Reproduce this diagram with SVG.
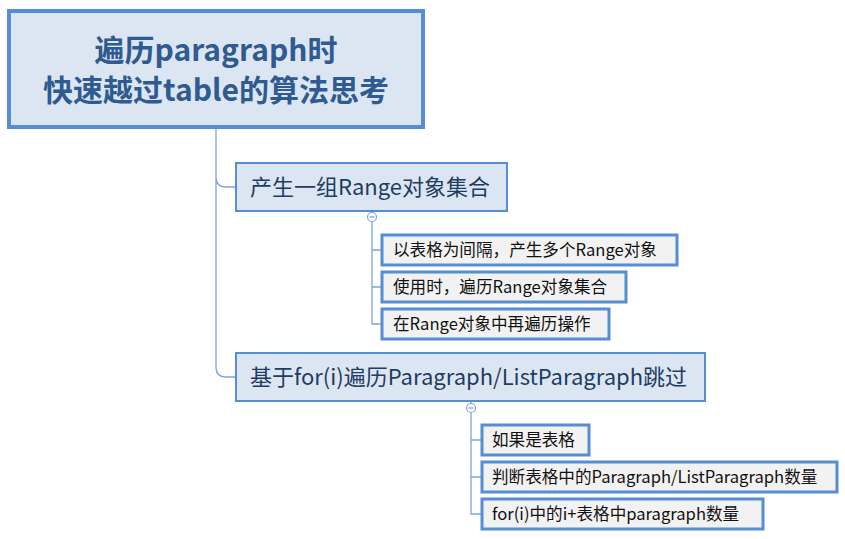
<svg xmlns="http://www.w3.org/2000/svg" width="845" height="539" viewBox="0 0 845 539">
<style>
.t{font-family:"Microsoft YaHei","Noto Sans CJK SC",sans-serif;}
.root rect{fill:#dce6f2;stroke:#558ed5;stroke-width:4}
.root text{fill:#2f5b91;font-size:30px;font-weight:bold}
.l1 rect{fill:#dce6f2;stroke:#558ed5;stroke-width:2}
.l1 text{fill:#1f3d63;font-size:22px}
.l2 rect{fill:#f2f2f2;stroke:#558ed5;stroke-width:3}
.l2 text{fill:#111;font-size:16.6px}
.c{fill:none;stroke:#7ea6dc;stroke-width:1.3}
.k{fill:#fff;stroke:#7ea6dc;stroke-width:1.2}
</style>
<rect width="845" height="539" fill="#fff"/>
<g id="connectors">
<path class="c" d="M216,128 V177 Q216,187 226,187 H236 M216,177 V367 Q216,377 226,377 H236"/>
<path class="c" d="M372,211 V324 H381 M372,250 H381 M372,287 H381"/>
<path class="c" d="M471,401 V514 H481 M471,440 H481 M471,477 H481"/>
<circle class="k" cx="372" cy="217" r="4.5"/><path class="c" d="M369.5,217 H374.5"/>
<circle class="k" cx="471" cy="408" r="4.5"/><path class="c" d="M468.5,408 H473.5"/>
</g>
<g id="root" class="root t"><rect x="9" y="11" width="414" height="116"/>
<text x="216" y="61" text-anchor="middle">遍历paragraph时</text>
<text x="216" y="101" text-anchor="middle">快速越过table的算法思考</text></g>
<g id="n1" class="l1 t"><rect x="236" y="163" width="271" height="48"/><text x="250" y="195">产生一组Range对象集合</text></g>
<g id="n11" class="l2 t"><rect x="382" y="235" width="295" height="30"/><text x="393" y="256">以表格为间隔，产生多个Range对象</text></g>
<g id="n12" class="l2 t"><rect x="382" y="272" width="244" height="30"/><text x="393" y="293">使用时，遍历Range对象集合</text></g>
<g id="n13" class="l2 t"><rect x="382" y="309" width="227" height="30"/><text x="393" y="330">在Range对象中再遍历操作</text></g>
<g id="n2" class="l1 t"><rect x="236" y="353" width="469" height="48"/><text x="250" y="385">基于for(i)遍历Paragraph/ListParagraph跳过</text></g>
<g id="n21" class="l2 t"><rect x="482" y="425" width="107" height="30"/><text x="492" y="446">如果是表格</text></g>
<g id="n22" class="l2 t"><rect x="482" y="462" width="355" height="30"/><text x="492" y="483">判断表格中的Paragraph/ListParagraph数量</text></g>
<g id="n23" class="l2 t"><rect x="482" y="499" width="281" height="30"/><text x="492" y="520">for(i)中的i+表格中paragraph数量</text></g>
</svg>
